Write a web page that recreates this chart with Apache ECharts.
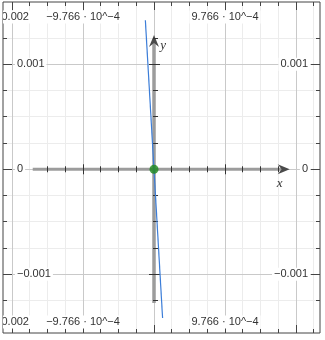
<!DOCTYPE html>
<html><head><meta charset="utf-8">
<script src="https://cdn.jsdelivr.net/npm/echarts@6/dist/echarts.min.js"></script>
<style>html,body{margin:0;padding:0;background:#fff}#c{width:325px;height:340px}</style>
</head><body><div id="c"></div>
<script>
// ---- data ----
const xRange = [-0.002077, 0.002283];
const yRange = [-0.001559, 0.001593];
const xMajor = [-0.001953125, -0.0009765625, 0, 0.0009765625, 0.001953125];
const xMinor = [-0.001953125, -0.001708984375, -0.00146484375, -0.001220703125, -0.0009765625,
  -0.000732421875, -0.00048828125, -0.000244140625, 0, 0.000244140625, 0.00048828125,
  0.000732421875, 0.0009765625, 0.001220703125, 0.00146484375, 0.001708984375, 0.001953125, 0.002197265625];
const yMajor = [-0.001, 0, 0.001];
const yMinor = [-0.00125, -0.001, -0.00075, -0.0005, -0.00025, 0, 0.00025, 0.0005, 0.00075, 0.001, 0.00125];
const xLabelValues = [-0.001953125, -0.0009765625, 0.0009765625];
const xLabelTexts = ['\u22120.002', '\u22129.766 \u00b7 10^\u22124', '9.766 \u00b7 10^\u22124'];
const yLabelValues = [0.001, 0, -0.001];
const yLabelTexts = ['0.001', '0', '\u22120.001'];
const xAxisExtent = [-0.001668, 0.001866];
const yAxisExtent = [-0.001273, 0.001279];
const xAxisMinorTicks = [-0.00146484375, -0.001220703125, -0.000732421875, -0.00048828125, -0.000244140625,
  0.000244140625, 0.00048828125, 0.000732421875, 0.001220703125, 0.00146484375, 0.001708984375];
const xAxisMajorTicks = [-0.0009765625, 0.0009765625];
const yAxisMinorTicks = [-0.00125, -0.00075, -0.0005, -0.00025, 0.00025, 0.0005, 0.00075, 0.00125];
const yAxisMajorTicks = [-0.001, 0.001];
const curveX = [-0.000119, 0.000118];
const curveY = [0.00142, -0.001416];
const pointX = [0];
const pointY = [0];

// ---- chart ----
const crisp = v => Math.round(v - 0.5) + 0.5;
const FONT = '11px "Liberation Sans", Arial, sans-serif';
const FRAME = '#444';

function custom(data, fn, z) {
  return { type: 'custom', data: data, renderItem: fn, z: z, clip: true, silent: true, animation: false };
}
const xd = arr => arr.map(v => [v, 0]);
const yd = arr => arr.map(v => [0, v]);

function vLine(color) {
  return (p, api) => {
    const cs = p.coordSys; const x = crisp(api.coord([api.value(0), 0])[0]);
    return { type: 'line', shape: { x1: x, y1: cs.y, x2: x, y2: cs.y + cs.height }, style: { stroke: color, lineWidth: 1 } };
  };
}
function hLine(color) {
  return (p, api) => {
    const cs = p.coordSys; const y = crisp(api.coord([0, api.value(1)])[1]);
    return { type: 'line', shape: { x1: cs.x, y1: y, x2: cs.x + cs.width, y2: y }, style: { stroke: color, lineWidth: 1 } };
  };
}
function xFrameTicks(len) {
  return (p, api) => {
    const cs = p.coordSys; const x = crisp(api.coord([api.value(0), 0])[0]);
    return { type: 'group', children: [
      { type: 'line', shape: { x1: x, y1: cs.y, x2: x, y2: cs.y + len }, style: { stroke: FRAME, lineWidth: 1 } },
      { type: 'line', shape: { x1: x, y1: cs.y + cs.height - len, x2: x, y2: cs.y + cs.height }, style: { stroke: FRAME, lineWidth: 1 } }
    ] };
  };
}
function yFrameTicks(len) {
  return (p, api) => {
    const cs = p.coordSys; const y = crisp(api.coord([0, api.value(1)])[1]);
    return { type: 'group', children: [
      { type: 'line', shape: { x1: cs.x, y1: y, x2: cs.x + len, y2: y }, style: { stroke: FRAME, lineWidth: 1 } },
      { type: 'line', shape: { x1: cs.x + cs.width - len, y1: y, x2: cs.x + cs.width, y2: y }, style: { stroke: FRAME, lineWidth: 1 } }
    ] };
  };
}
function txt(text, x, y, align) {
  return { type: 'text', x: x, y: y, style: { text: text, fill: '#333', font: FONT, align: align, verticalAlign: 'middle', backgroundColor: '#fff', padding: [1, 2] } };
}
const xLabels = (p, api) => {
  const cs = p.coordSys; const x = api.coord([api.value(0), 0])[0];
  const t = xLabelTexts[p.dataIndex];
  return { type: 'group', children: [txt(t, x, cs.y + 15, 'center'), txt(t, x, cs.y + cs.height - 11, 'center')] };
};
const yLabels = (p, api) => {
  const cs = p.coordSys; const y = api.coord([0, api.value(1)])[1];
  const t = yLabelTexts[p.dataIndex];
  return { type: 'group', children: [txt(t, cs.x + 12, y, 'left'), txt(t, cs.x + cs.width - 10, y, 'right')] };
};
const axes = (p, api) => {
  const a = api.coord([xAxisExtent[0], 0]); const b = api.coord([xAxisExtent[1], 0]);
  const c = api.coord([0, yAxisExtent[0]]); const d = api.coord([0, yAxisExtent[1]]);
  const gy = a[1], gx = c[0];
  return { type: 'group', children: [
    { type: 'line', shape: { x1: a[0], y1: gy, x2: b[0] - 6, y2: gy }, style: { stroke: '#9c9c9c', lineWidth: 3 } },
    { type: 'line', shape: { x1: gx, y1: c[1], x2: gx, y2: d[1] + 6 }, style: { stroke: '#9c9c9c', lineWidth: 3.5 } },
    { type: 'polygon', shape: { points: [[b[0], gy], [b[0] - 12, gy - 5], [b[0] - 8, gy], [b[0] - 12, gy + 5]] }, style: { fill: '#4a4a4a' } },
    { type: 'polygon', shape: { points: [[gx, d[1]], [gx - 5, d[1] + 12], [gx, d[1] + 8], [gx + 5, d[1] + 12]] }, style: { fill: '#4a4a4a' } },
    { type: 'text', x: b[0] - 10, y: gy + 14, style: { text: 'x', fill: '#333', font: 'italic 13px "Liberation Serif", "DejaVu Serif", serif', align: 'center', verticalAlign: 'middle' } },
    { type: 'text', x: gx + 9, y: d[1] + 11, style: { text: 'y', fill: '#333', font: 'italic 13px "Liberation Serif", "DejaVu Serif", serif', align: 'center', verticalAlign: 'middle' } }
  ] };
};
function xAxTick(h) {
  return (p, api) => {
    const q = api.coord([api.value(0), 0]); const x = crisp(q[0]);
    return { type: 'line', shape: { x1: x, y1: q[1] - h, x2: x, y2: q[1] + h }, style: { stroke: '#333', lineWidth: 1 } };
  };
}
function yAxTick(l, r) {
  return (p, api) => {
    const q = api.coord([0, api.value(1)]); const y = crisp(q[1]);
    return { type: 'line', shape: { x1: q[0] - l, y1: y, x2: q[0] + r, y2: y }, style: { stroke: '#333', lineWidth: 1 } };
  };
}

const chart = echarts.init(document.getElementById('c'), null, { renderer: 'canvas' });
chart.setOption({
  animation: false,
  backgroundColor: '#fff',
  grid: { left: 3, right: 5, top: 2, bottom: 7, show: true, borderColor: FRAME, borderWidth: 1, backgroundColor: 'transparent' },
  xAxis: { type: 'value', min: xRange[0], max: xRange[1], show: false },
  yAxis: { type: 'value', min: yRange[0], max: yRange[1], show: false },
  series: [
    custom(xd(xMinor), vLine('#ececec'), 1),
    custom(yd(yMinor), hLine('#ececec'), 1),
    custom(xd(xMajor), vLine('#c9c9c9'), 1.5),
    custom(yd(yMajor), hLine('#c9c9c9'), 1.5),
    custom(xd(xMinor), xFrameTicks(4), 2),
    custom(yd(yMinor), yFrameTicks(4), 2),
    custom(xd(xMajor), xFrameTicks(8), 2),
    custom(yd(yMajor), yFrameTicks(9), 2),
    custom(xd(xLabelValues), xLabels, 3),
    custom(yd(yLabelValues), yLabels, 3),
    custom([[0, 0]], axes, 4),
    custom(xd(xAxisMinorTicks), xAxTick(3), 5),
    custom(xd(xAxisMajorTicks), xAxTick(5), 5),
    custom(yd(yAxisMinorTicks), yAxTick(1, 4), 5),
    custom(yd(yAxisMajorTicks), yAxTick(5, 6), 5),
    { type: 'line', data: curveX.map((v, i) => [v, curveY[i]]), symbol: 'none', z: 6, silent: true,
      lineStyle: { color: '#3b7dd8', width: 1.2 } },
    { type: 'scatter', data: pointX.map((v, i) => [v, pointY[i]]), symbolSize: 9, z: 7, silent: true,
      itemStyle: { color: '#1d8a1d' } }
  ]
});
</script></body></html>
